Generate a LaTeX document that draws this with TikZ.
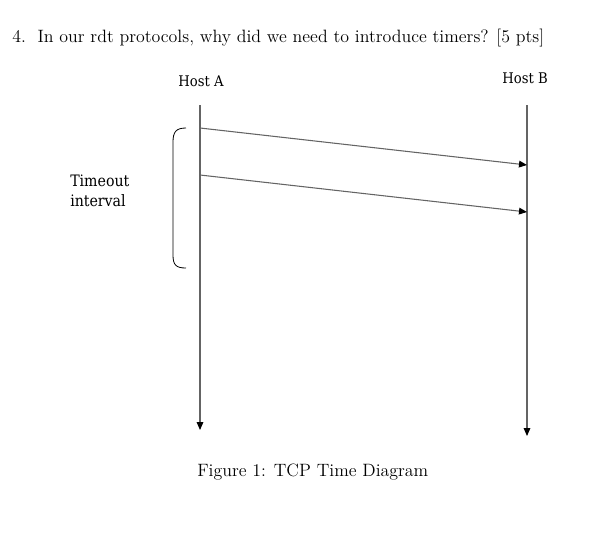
\documentclass[tikz,border=0pt]{standalone}
\usepackage{fontspec}
\newfontfamily\hostfont{DejaVu Serif Condensed}
\usetikzlibrary{arrows.meta}

\begin{document}
\begin{tikzpicture}[x=0.75pt,y=0.75pt,yscale=-1,xscale=1]
    \useasboundingbox (0,0) rectangle (591,532);
    \tikzset{timeline/.style={draw={rgb,255:red,100;green,100;blue,100},line width=0.8,-{Triangle[length=6pt,width=5pt,color=black]}},
      hostlbl/.style={font=\hostfont\fontsize{11}{13}\selectfont,inner sep=0}}
    
    %Question text
    \node [anchor=west,inner sep=0,font=\fontsize{13.4}{16}\selectfont] (question) at (12,38) {4.\ \ In our rdt protocols, why did we need to introduce timers? [5 pts]};
    
    %Host labels
    \node [hostlbl] (hostA) at (201,81) {Host A};
    \node [hostlbl] (hostB) at (525,78) {Host B};
    
    %Time lines
    \coordinate (aTop) at (200,105);
    \coordinate (aEnd) at (200,430);
    \coordinate (bTop) at (527,105);
    \coordinate (bEnd) at (527,436);
    \draw [timeline] (aTop) -- (aEnd);
    \draw [timeline] (bTop) -- (bEnd);
    
    %Packets
    \coordinate (s1) at (200,128);
    \coordinate (r1) at (527,165);
    \coordinate (s2) at (200,175);
    \coordinate (r2) at (527,212);
    \draw [timeline] (s1) -- (r1);
    \draw [timeline] (s2) -- (r2);
    
    %Bracket
    \draw [line width=0.6] (186,128) .. controls (176,128) and (173,132) .. (173,142) -- (173,255) .. controls (173,265) and (176,268) .. (186,268);
    \node [anchor=north west,align=left,inner sep=0,font=\hostfont\fontsize{11.8}{15}\selectfont] (timeout) at (70,175) {Timeout\\interval};
    
    %Caption
    \node [anchor=west,inner sep=0,font=\fontsize{13.4}{16}\selectfont] (caption) at (197,472) {Figure 1: TCP Time Diagram};
    
\end{tikzpicture}
\end{document}
